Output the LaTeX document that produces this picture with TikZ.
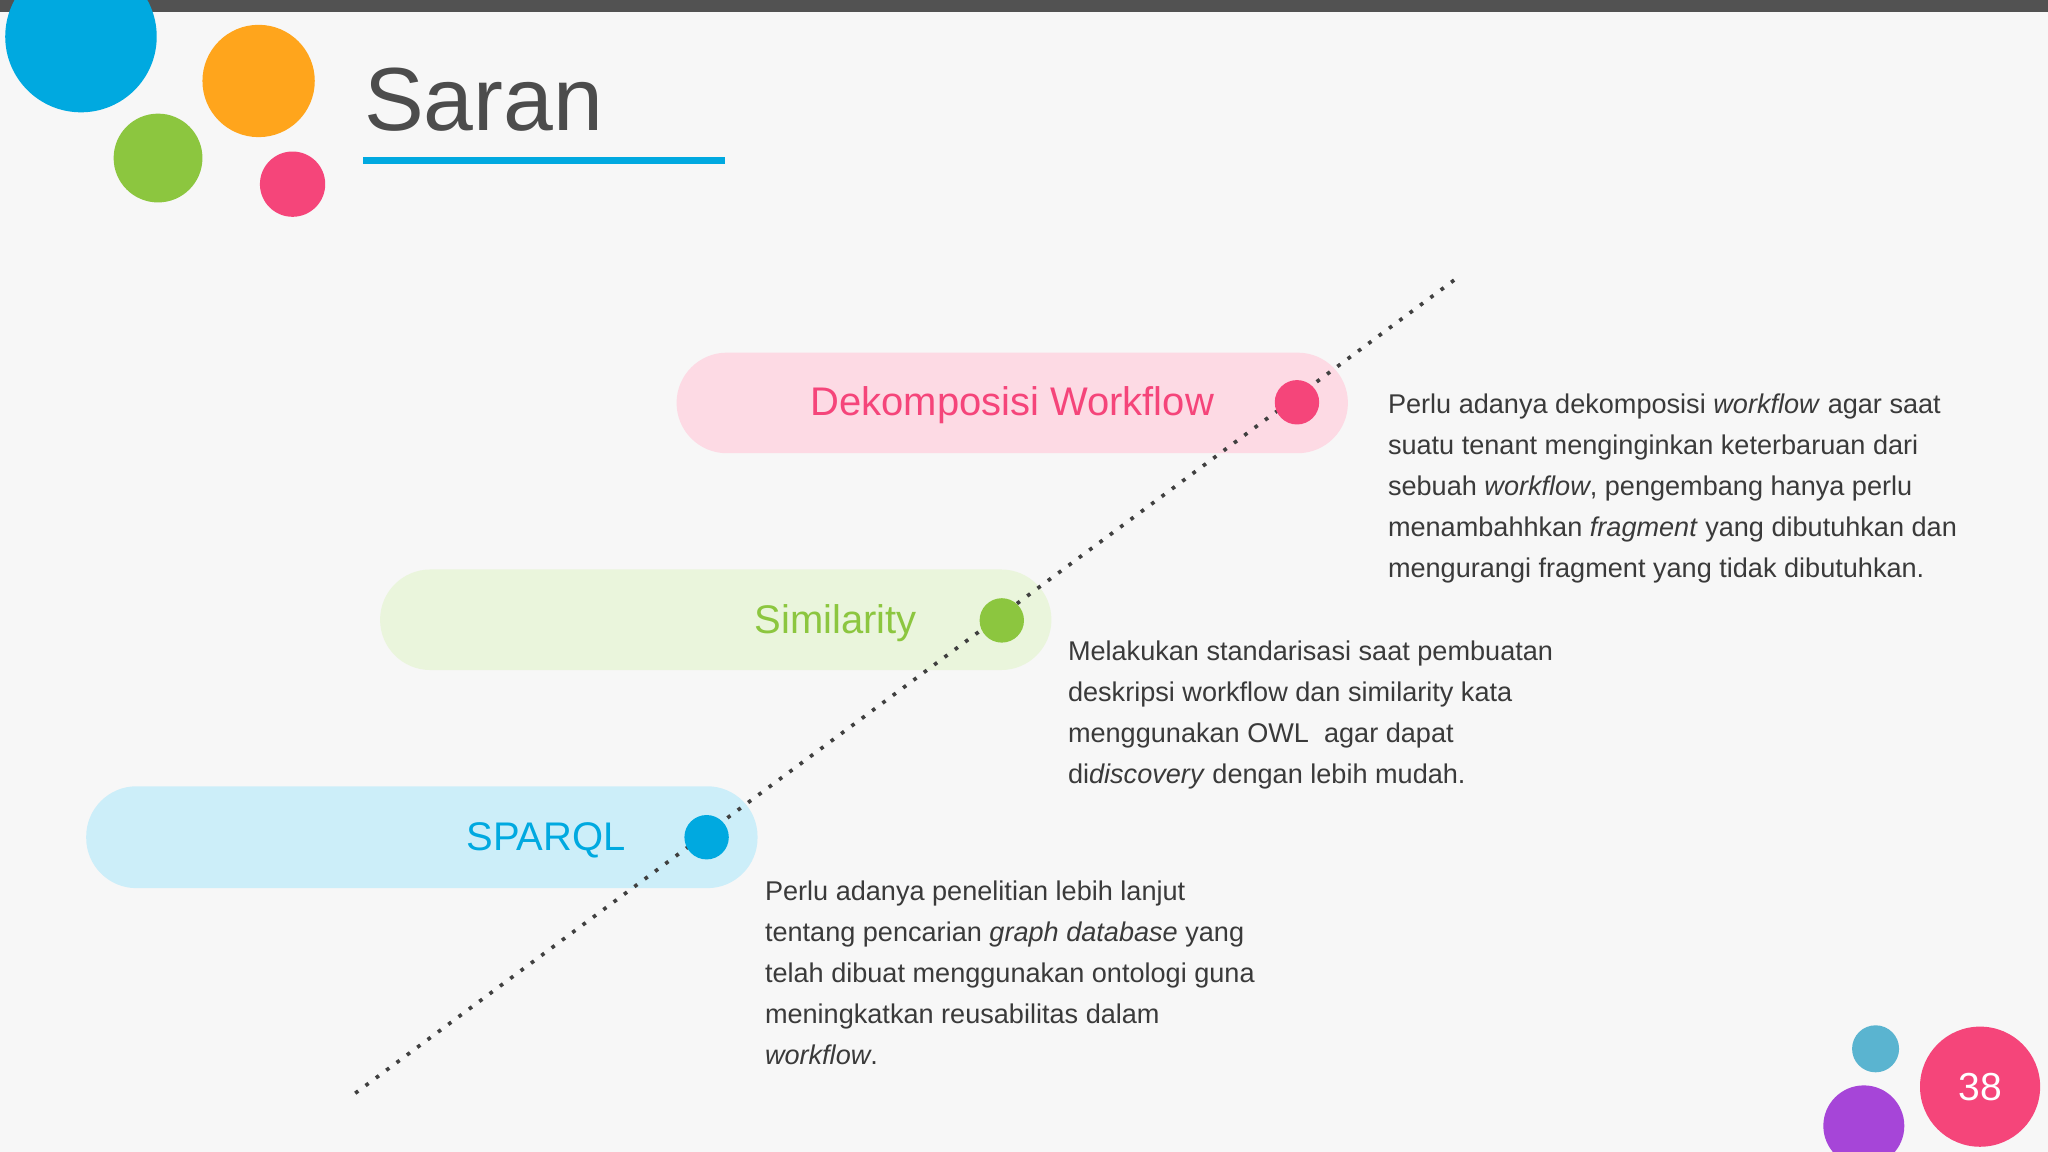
\documentclass[tikz,border=0pt]{standalone}
\usepackage{fontspec}
\setmainfont{Liberation Sans}
\definecolor{bg}{HTML}{F7F7F7}
\definecolor{cblue}{HTML}{00A9E0}
\definecolor{corange}{HTML}{FFA51C}
\definecolor{cgreen}{HTML}{8CC63F}
\definecolor{cpink}{HTML}{F5457A}
\definecolor{cteal}{HTML}{5AB4D0}
\definecolor{cpurple}{HTML}{A645D8}
\definecolor{txt}{HTML}{3A3A3A}
\begin{document}
\begin{tikzpicture}[x=0.01cm,y=-0.01cm,
  pill/.style={rounded corners=38.5*0.01cm},
  para/.style={anchor=north west,align=left,inner sep=0,text=txt,font=\fontsize{5.9}{8.9}\selectfont},
  lbl/.style={font=\fontsize{8.7}{10}\selectfont}]
\fill[bg] (0,0) rectangle (1568,882);
\useasboundingbox (0,0) rectangle (1568,882);
\fill[black!68] (0,0) rectangle (1568,9);
\fill[cblue] (62,28) circle (58);
\fill[corange] (198,62) circle (43);
\fill[cgreen] (121,121) circle (34);
\fill[cpink] (224,141) circle (25);
\node[anchor=base west,inner sep=0,text=black!70,font=\fontsize{19.5}{20}\selectfont] (title) at (278,100) {Saran};
\draw[cblue,line width=5*0.01cm] (278,123) -- (555,123);
% pills
\fill[pill,fill=cpink!20] (518,270) rectangle (1032,347);
\fill[pill,fill=cgreen!18] (291,436) rectangle (805,513);
\fill[pill,fill=cblue!20] (66,602) rectangle (580,680);
\coordinate (s) at (272,837);
\coordinate (e) at (1118,211);
\draw[dotted,thick,black!75] (s) -- (e);
\node[lbl,text=cpink] (t1) at (775,310) {Dekomposisi Workflow};
\node[lbl,text=cgreen] (t2) at (640,477) {Similarity};
\node[lbl,text=cblue] (t3) at (418,643) {SPARQL};
\fill[cpink] (993,308) circle (17);
\fill[cgreen] (767,475) circle (17);
\fill[cblue] (541,641) circle (17);
\node[para] (p1) at (1062,301) {Perlu adanya dekomposisi \textit{workflow} agar saat\\suatu tenant menginginkan keterbaruan dari\\sebuah \textit{workflow}, pengembang hanya perlu\\menambahhkan \textit{fragment} yang dibutuhkan dan\\mengurangi fragment yang tidak dibutuhkan.};
\node[para] (p2) at (817,490) {Melakukan standarisasi saat pembuatan\\deskripsi workflow dan similarity kata\\menggunakan OWL\ \ agar dapat\\di\textit{discovery} dengan lebih mudah.};
\node[para] (p3) at (585,674) {Perlu adanya penelitian lebih lanjut\\tentang pencarian \textit{graph database} yang\\telah dibuat menggunakan ontologi guna\\meningkatkan reusabilitas dalam\\\textit{workflow}.};
\fill[cteal] (1436,803) circle (18);
\fill[cpurple] (1427,862) circle (31);
\fill[cpink] (1516,832) circle (46);
\node[text=white,font=\fontsize{8.5}{10}\selectfont] (num) at (1516,832) {38};
\end{tikzpicture}
\end{document}
